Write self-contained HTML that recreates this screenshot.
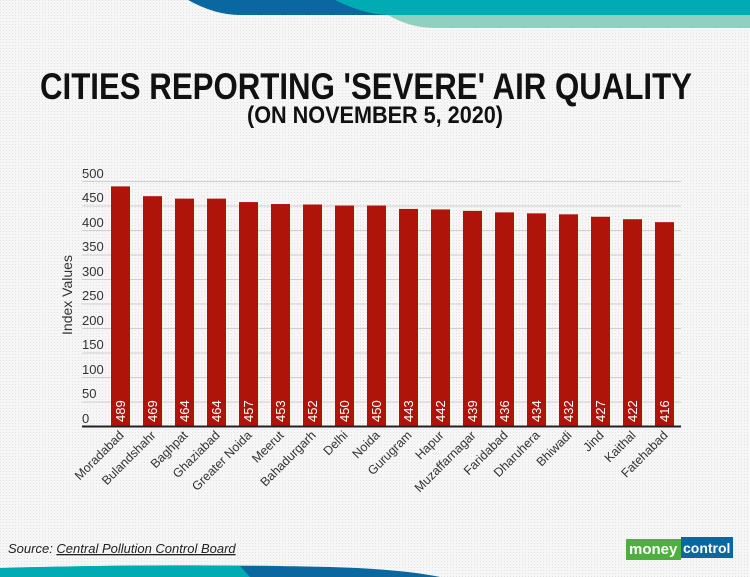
<!DOCTYPE html>
<html><head><meta charset="utf-8"><style>
body{margin:0;width:750px;height:577px;overflow:hidden;background:#f2f2f2;}
svg{display:block}
</style></head><body>
<svg width="750" height="577" viewBox="0 0 750 577" xmlns="http://www.w3.org/2000/svg" font-family="Liberation Sans, sans-serif">
<defs><pattern id="dots" width="3" height="3" patternUnits="userSpaceOnUse"><rect width="3" height="3" fill="#f6f6f6"/><rect width="1" height="1" fill="#e2e2e2"/></pattern></defs>
<rect width="750" height="577" fill="url(#dots)"/>
<!-- header shapes -->
<path d="M188 0 Q215 15 240 15 L750 15 L750 0 Z" fill="#0a67a0"/>
<path d="M335 0 Q365 15 390 15 L750 15 L750 0 Z" fill="#00abb3"/>
<path d="M388 15 Q410 28 435 28 L750 28 L750 15 Z" fill="#8fd0c0"/>
<!-- footer shapes -->
<path d="M0 577 L0 568 Q150 564 280 566 Q320 570 310 577 Z" fill="#00abb3"/>
<path d="M160 577 L160 567 Q260 565 330 567 Q400 569 440 577 Z" fill="#0a67a0"/>
<path d="M0 577 L0 568 Q150 564 240 566 L250 577 Z" fill="#00abb3"/>
<!-- title -->
<text x="366" y="99" text-anchor="middle" font-family="Liberation Sans Narrow, Liberation Sans, sans-serif" font-weight="bold" font-size="37" fill="#111" textLength="652" lengthAdjust="spacingAndGlyphs">CITIES REPORTING 'SEVERE' AIR QUALITY</text>
<text x="375" y="123" text-anchor="middle" font-family="Liberation Sans Narrow, Liberation Sans, sans-serif" font-weight="bold" font-size="24" fill="#111" textLength="256" lengthAdjust="spacingAndGlyphs">(ON NOVEMBER 5, 2020)</text>
<!-- grid -->
<g stroke="#cfcfcf" stroke-width="1">
<line x1="82" x2="681" y1="181.5" y2="181.5"/><line x1="82" x2="681" y1="206" y2="206"/>
<line x1="82" x2="681" y1="230.5" y2="230.5"/><line x1="82" x2="681" y1="255" y2="255"/>
<line x1="82" x2="681" y1="279.5" y2="279.5"/><line x1="82" x2="681" y1="304" y2="304"/>
<line x1="82" x2="681" y1="328.5" y2="328.5"/><line x1="82" x2="681" y1="353" y2="353"/>
<line x1="82" x2="681" y1="377.5" y2="377.5"/><line x1="82" x2="681" y1="402" y2="402"/>
</g>
<g font-size="13" fill="#333">
<text x="82" y="178">500</text><text x="82" y="202">450</text><text x="82" y="227">400</text>
<text x="82" y="251">350</text><text x="82" y="276">300</text><text x="82" y="300">250</text>
<text x="82" y="325">200</text><text x="82" y="349">150</text><text x="82" y="374">100</text>
<text x="82" y="398">50</text><text x="82" y="423">0</text>
</g>
<text transform="translate(72,295) rotate(-90)" text-anchor="middle" font-size="14" fill="#333">Index Values</text>
<g id="bars"></g>
<line x1="82" x2="681" y1="426.5" y2="426.5" stroke="#222" stroke-width="2"/>
<text x="8" y="553" font-size="13" font-style="italic" fill="#222">Source: <tspan text-decoration="underline">Central Pollution Control Board</tspan></text>
<rect x="626" y="539" width="55" height="21" fill="#4caf3e"/>
<rect x="681" y="537" width="52" height="21" fill="#0a67a0"/>
<text x="629" y="554" font-size="15" font-weight="bold" fill="#fff">money</text>
<text x="683" y="553" font-size="14" font-weight="bold" fill="#fff">control</text>
</svg>
<script>
var d=[["Moradabad",489],["Bulandshahr",469],["Baghpat",464],["Ghaziabad",464],["Greater Noida",457],["Meerut",453],["Bahadurgarh",452],["Delhi",450],["Noida",450],["Gurugram",443],["Hapur",442],["Muzaffarnagar",439],["Faridabad",436],["Dharuhera",434],["Bhiwadi",432],["Jind",427],["Kaithal",422],["Fatehabad",416]];
var g=document.getElementById("bars"),s="";
d.forEach(function(e,i){var x=111+i*32,h=e[1]*0.49,y=426-h,c=x+9.5;
s+='<rect x="'+x+'" y="'+y+'" width="19" height="'+h+'" fill="#ae1409"/>';
s+='<text transform="translate('+(c+4.5)+',422) rotate(-90)" font-size="13" fill="#fff">'+e[1]+'</text>';
s+='<text transform="translate('+(c+4)+',436) rotate(-45)" text-anchor="end" font-size="12.5" fill="#333">'+e[0]+'</text>';});
g.innerHTML=s;
</script>
</body></html>
